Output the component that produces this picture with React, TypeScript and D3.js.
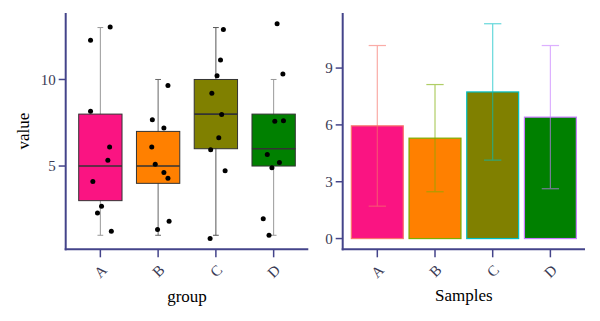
import React from "react";
import * as d3 from "d3";

const groups = ["A", "B", "C", "D"];
const boxFill = ["#FA1482", "#FF8000", "#808000", "#008000"];
const whiskerColor = ["#999999", "#666666", "#555555", "#999999"];
// box stats: min, q1, median, q3, max
const boxMin = [1, 1, 1, 1];
const boxQ1 = [3, 4, 6, 5];
const boxMed = [5, 5, 8, 6];
const boxQ3 = [8, 7, 10, 8];
const boxMax = [13, 10, 13, 10];
// jittered points: group, horizontal jitter (category units), value
const pointGroup = [
  "A", "A", "A", "A", "A", "A", "A", "A", "A",
  "B", "B", "B", "B", "B", "B", "B", "B", "B",
  "C", "C", "C", "C", "C", "C", "C", "C", "C",
  "D", "D", "D", "D", "D", "D", "D", "D", "D",
];
const pointJitter = [
  0.17, -0.17, -0.17, 0.16, 0.13, -0.13, 0.02, -0.05, 0.19,
  0.17, -0.1, 0.1, -0.11, -0.05, 0.1, 0.17, 0.19, -0.01,
  0.13, 0.08, 0.02, -0.07, 0.1, 0.05, -0.09, 0.16, -0.1,
  0.06, 0.16, 0.02, 0.17, -0.11, 0.1, -0.03, -0.18, -0.08,
];
const pointValue = [
  13.03, 12.27, 8.16, 6.1, 5.34, 4.11, 2.68, 2.28, 1.23,
  9.65, 7.68, 7.2, 6.1, 5.1, 4.63, 4.3, 1.81, 1.33,
  12.89, 11.13, 10.21, 9.21, 7.97, 6.64, 5.94, 4.73, 0.81,
  13.22, 10.31, 7.59, 7.62, 5.67, 5.21, 4.9, 1.95, 1.0,
];
const barMean = [5.95, 5.3, 7.74, 6.41];
const barSd = [4.24, 2.83, 3.6, 3.78];
const barStroke = ["#F8766D", "#7CAE00", "#00BFC4", "#C77CFF"];
const leftTicks = [5, 10];
const rightTicks = [0, 3, 6, 9];

const W = 600;
const H = 321;
const top = 13;
const bottom = 249.3;
const axisColor = "#44448a";
const tickText = "#3a3a55";
const font = "Liberation Serif";

function expand(lo: number, hi: number): [number, number] {
  const e = (hi - lo) * 0.05;
  return [lo - e, hi + e];
}

export default function App() {
  // left panel
  const lx0 = 65.7;
  const lx1 = 308.3;
  const xL = d3.scalePoint<string>().domain(groups).range([lx0, lx1]).padding(0.6);
  const stepL = xL.step();
  const ext = d3.extent(pointValue) as [number, number];
  const yL = d3.scaleLinear().domain(expand(ext[0], ext[1])).range([bottom, top]);

  // right panel
  const rx0 = 342.7;
  const rx1 = 585;
  const xR = d3.scalePoint<string>().domain(groups).range([rx0, rx1]).padding(0.6);
  const stepR = xR.step();
  const maxUp = d3.max(barMean.map((m, i) => m + barSd[i])) as number;
  const yR = d3.scaleLinear().domain(expand(0, maxUp)).range([bottom, top]);

  const boxW = stepL * 0.75;
  const capL = stepL * 0.1;
  const barW = stepR * 0.9;
  const capR = stepR * 0.3;

  const xTickLabel = (x: number, g: string, key: string) => (
    <text
      key={key}
      transform={`translate(${x + 7.5},${271}) rotate(-45)`}
      textAnchor="end"
      fontSize={15}
      fill={tickText}
      fontFamily={font}
    >
      {g}
    </text>
  );

  return (
    <svg width={W} height={H} style={{ position: "absolute", left: 0, top: 0 }} fontFamily={font}>
      <rect width={W} height={H} fill="#fff" />
      {/* LEFT PANEL */}
      {groups.map((g, i) => {
        const cx = xL(g) as number;
        return (
          <g key={"box" + g}>
            <line x1={cx} x2={cx} y1={yL(boxMin[i])} y2={yL(boxMax[i])} stroke={whiskerColor[i]} strokeWidth={1} />
            <line x1={cx - capL / 2} x2={cx + capL / 2} y1={yL(boxMin[i])} y2={yL(boxMin[i])} stroke={whiskerColor[i]} strokeWidth={1} />
            <line x1={cx - capL / 2} x2={cx + capL / 2} y1={yL(boxMax[i])} y2={yL(boxMax[i])} stroke={whiskerColor[i]} strokeWidth={1} />
            <rect
              x={cx - boxW / 2}
              y={yL(boxQ3[i])}
              width={boxW}
              height={yL(boxQ1[i]) - yL(boxQ3[i])}
              fill={boxFill[i]}
              stroke="#333"
              strokeWidth={1}
            />
            <line x1={cx - boxW / 2} x2={cx + boxW / 2} y1={yL(boxMed[i])} y2={yL(boxMed[i])} stroke="#333" strokeWidth={1.6} />
          </g>
        );
      })}
      {pointValue.map((v, i) => (
        <circle
          key={"pt" + i}
          cx={(xL(pointGroup[i]) as number) + pointJitter[i] * stepL}
          cy={yL(v)}
          r={2.5}
          fill="#000"
        />
      ))}
      <line x1={lx0} x2={lx0} y1={top} y2={bottom + 1} stroke={axisColor} strokeWidth={2} />
      <line x1={lx0 - 1} x2={lx1} y1={bottom} y2={bottom} stroke={axisColor} strokeWidth={2} />
      {leftTicks.map((t) => (
        <g key={"lt" + t}>
          <line x1={lx0 - 7} x2={lx0} y1={yL(t)} y2={yL(t)} stroke={axisColor} strokeWidth={1.5} />
          <text x={lx0 - 10} y={yL(t)} dy="0.35em" textAnchor="end" fontSize={15} fill={tickText} fontFamily={font}>
            {t}
          </text>
        </g>
      ))}
      {groups.map((g) => {
        const cx = xL(g) as number;
        return (
          <g key={"lxt" + g}>
            <line x1={cx} x2={cx} y1={bottom} y2={bottom + 8} stroke={axisColor} strokeWidth={1.5} />
            {xTickLabel(cx, g, "lxl" + g)}
          </g>
        );
      })}
      <text x={(lx0 + lx1) / 2} y={302} textAnchor="middle" fontSize={17} fontFamily={font} fill="#000">
        group
      </text>
      <text
        transform={`translate(${29},${(top + bottom) / 2}) rotate(-90)`}
        textAnchor="middle"
        fontSize={17}
        fontFamily={font}
        fill="#000"
      >
        value
      </text>

      {/* RIGHT PANEL */}
      {groups.map((g, i) => {
        const cx = xR(g) as number;
        const m = barMean[i];
        const s = barSd[i];
        return (
          <g key={"bar" + g}>
            <rect
              x={cx - barW / 2}
              y={yR(m)}
              width={barW}
              height={yR(0) - yR(m)}
              fill={boxFill[i]}
              stroke={barStroke[i]}
              strokeWidth={1.2}
            />
            <g stroke={barStroke[i]} strokeWidth={1.2} opacity={0.6}>
              <line x1={cx} x2={cx} y1={yR(m - s)} y2={yR(m + s)} />
              <line x1={cx - capR / 2} x2={cx + capR / 2} y1={yR(m - s)} y2={yR(m - s)} />
              <line x1={cx - capR / 2} x2={cx + capR / 2} y1={yR(m + s)} y2={yR(m + s)} />
            </g>
          </g>
        );
      })}
      <line x1={rx0} x2={rx0} y1={top} y2={bottom + 1} stroke={axisColor} strokeWidth={2} />
      <line x1={rx0 - 1} x2={rx1} y1={bottom} y2={bottom} stroke={axisColor} strokeWidth={2} />
      {rightTicks.map((t) => (
        <g key={"rt" + t}>
          <line x1={rx0 - 7} x2={rx0} y1={yR(t)} y2={yR(t)} stroke={axisColor} strokeWidth={1.5} />
          <text x={rx0 - 10} y={yR(t)} dy="0.35em" textAnchor="end" fontSize={15} fill={tickText} fontFamily={font}>
            {t}
          </text>
        </g>
      ))}
      {groups.map((g) => {
        const cx = xR(g) as number;
        return (
          <g key={"rxt" + g}>
            <line x1={cx} x2={cx} y1={bottom} y2={bottom + 8} stroke={axisColor} strokeWidth={1.5} />
            {xTickLabel(cx, g, "rxl" + g)}
          </g>
        );
      })}
      <text x={(rx0 + rx1) / 2} y={301} textAnchor="middle" fontSize={17} fontFamily={font} fill="#000">
        Samples
      </text>
    </svg>
  );
}
